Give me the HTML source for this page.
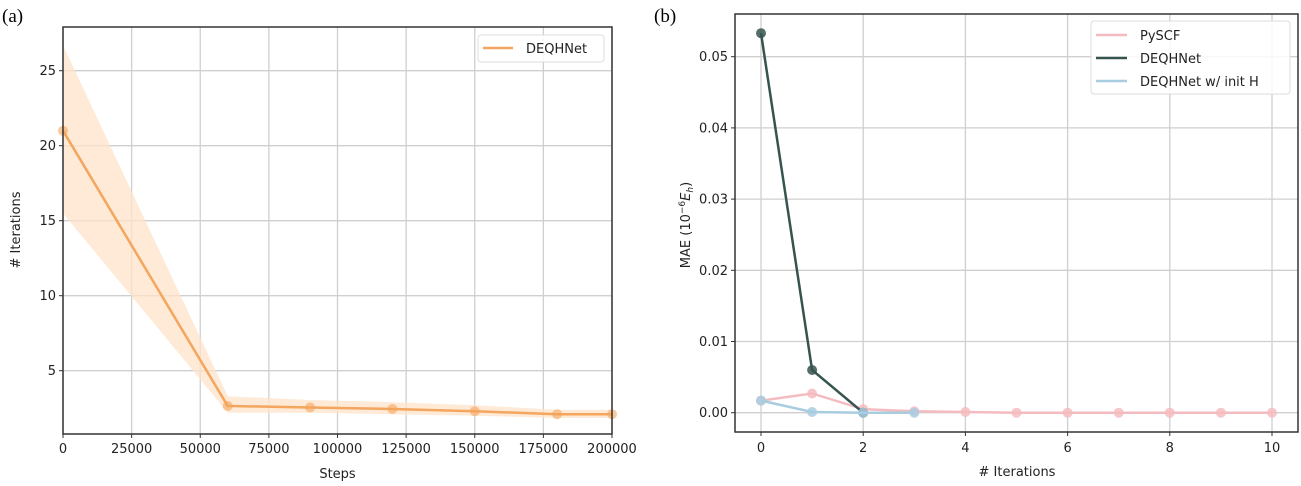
<!DOCTYPE html>
<html><head><meta charset="utf-8"><style>
html,body{margin:0;padding:0;background:#fff;}
svg{display:block;font-family:"DejaVu Sans","Liberation Sans",sans-serif;}
</style></head><body>
<svg id="fig" width="1301" height="486" viewBox="0 0 1301 486" xmlns="http://www.w3.org/2000/svg">
<text x="2" y="22" font-family="Liberation Serif,serif" font-size="19">(a)</text>
<text x="654" y="22" font-family="Liberation Serif,serif" font-size="19">(b)</text>
<g id="pa"></g>
<g id="pb"></g>
</svg>
<script>
// Panel A data
const aSteps = [0, 60000, 90000, 120000, 150000, 180000, 200000];
const aIters = [21, 2.65, 2.55, 2.45, 2.3, 2.1, 2.1];
const aLow = [15.5, 2.2, 2.2, 2.1, 2.0, 1.85, 1.85];
const aHigh = [26.7, 3.3, 3.05, 2.9, 2.7, 2.4, 2.4];
const aXTicks = [0, 25000, 50000, 75000, 100000, 125000, 150000, 175000, 200000];
const aYTicks = [5, 10, 15, 20, 25];
// Panel B data
const bIter = [0,1,2,3,4,5,6,7,8,9,10];
const bPyscf = [0.0017,0.0027,0.0005,0.0002,0.0001,0,0,0,0,0,0];
const bDeqIter = [0,1,2];
const bDeq = [0.0533,0.006,0.0];
const bInitIter = [0,1,2,3];
const bInit = [0.0017,0.0001,0.0,0.0];
const bXTicks = [0,2,4,6,8,10];
const bYTicks = [0,0.01,0.02,0.03,0.04,0.05];
const bYLabels = ["0.00","0.01","0.02","0.03","0.04","0.05"];

const NS="http://www.w3.org/2000/svg";
function mk(parent,tag,attrs,text){const e=document.createElementNS(NS,tag);for(const k in attrs)e.setAttribute(k,attrs[k]);if(text!==undefined)e.textContent=text;parent.appendChild(e);return e;}

// ---- Panel A ----
const pa=document.getElementById('pa');
const aL=63,aR=612,aT=27,aB=434;
const ax=v=>aL+(v-0)/(200000-0)*(aR-aL);
const ay=v=>445.7-v*15;
for(const t of aXTicks){const g=mk(pa,'line',{x1:ax(t),x2:ax(t),y1:aT,y2:aB,stroke:'#cfcfcf','stroke-width':1.3});

const tk=mk(pa,'line',{x1:ax(t),x2:ax(t),y1:aB,y2:aB+4,stroke:'#333'});
const tl=mk(pa,'text',{x:ax(t),y:aB+19,'font-size':13,'text-anchor':'middle',fill:'#222'},String(t));}
for(const t of aYTicks){const g=mk(pa,'line',{x1:aL,x2:aR,y1:ay(t),y2:ay(t),stroke:'#cfcfcf','stroke-width':1.3});

const tk=mk(pa,'line',{x1:aL-4,x2:aL,y1:ay(t),y2:ay(t),stroke:'#333'});
const tl=mk(pa,'text',{x:aL-7,y:ay(t)+4.5,'font-size':13,'text-anchor':'end',fill:'#222'},String(t));}
let band='';aSteps.forEach((s,i)=>band+=(i?'L':'M')+ax(s)+','+ay(aHigh[i]));
for(let i=aSteps.length-1;i>=0;i--)band+='L'+ax(aSteps[i])+','+ay(aLow[i]);
const bd=mk(pa,'path',{d:band+'Z',fill:'#fde3c8','fill-opacity':0.75});
const aLine=mk(pa,'polyline',{points:aSteps.map((s,i)=>ax(s)+','+ay(aIters[i])).join(' '),fill:'none',stroke:'#f4a55e','stroke-width':2.5});

aSteps.forEach((s,i)=>{const c=mk(pa,'circle',{cx:ax(s),cy:ay(aIters[i]),r:5,fill:'#f4a55e','fill-opacity':0.6});});
const af=mk(pa,'rect',{x:aL,y:aT,width:aR-aL,height:aB-aT,fill:'none',stroke:'#333','stroke-width':1.5});
const axt=mk(pa,'text',{x:(aL+aR)/2,y:478,'font-size':13,'text-anchor':'middle',fill:'#222'},'Steps');
const ayt=mk(pa,'text',{x:20,y:230,'font-size':13,'text-anchor':'middle',fill:'#222',transform:'rotate(-90 20 230)'},'# Iterations');
const alg=mk(pa,'g',{});
mk(alg,'rect',{x:478,y:35,width:126,height:27,rx:3,fill:'#fff','fill-opacity':0.85,stroke:'#ddd'});
mk(alg,'line',{x1:483,x2:513,y1:48,y2:48,stroke:'#f4a55e','stroke-width':2.5});
mk(alg,'text',{x:526,y:53,'font-size':13,fill:'#222'},'DEQHNet');

// ---- Panel B ----
const pb=document.getElementById('pb');
const bL=735,bR=1298,bT=14,bB=432;
const bx=v=>761+v*(1272-761)/10;
const by=v=>412.7-v*(356/0.05);
for(const t of bXTicks){const g=mk(pb,'line',{x1:bx(t),x2:bx(t),y1:bT,y2:bB,stroke:'#cfcfcf','stroke-width':1.3});
const tk=mk(pb,'line',{x1:bx(t),x2:bx(t),y1:bB,y2:bB+4,stroke:'#333'});
const tl=mk(pb,'text',{x:bx(t),y:bB+20,'font-size':13,'text-anchor':'middle',fill:'#222'},String(t));}
bYTicks.forEach((t,i)=>{const g=mk(pb,'line',{x1:bL,x2:bR,y1:by(t),y2:by(t),stroke:'#cfcfcf','stroke-width':1.3});
const tk=mk(pb,'line',{x1:bL-4,x2:bL,y1:by(t),y2:by(t),stroke:'#333'});
const tl=mk(pb,'text',{x:bL-7,y:by(t)+4.5,'font-size':13,'text-anchor':'end',fill:'#222'},bYLabels[i]);});
function series(xs,ys,color,name){
const l=mk(pb,'polyline',{points:xs.map((x,i)=>bx(x)+','+by(ys[i])).join(' '),fill:'none',stroke:color,'stroke-width':2.5});

xs.forEach((x,i)=>{const c=mk(pb,'circle',{cx:bx(x),cy:by(ys[i]),r:5,fill:color,'fill-opacity':0.85});});}
series(bIter,bPyscf,'#f4bcc0','b-pyscf');
series(bDeqIter,bDeq,'#36544f','b-deqhnet');
series(bInitIter,bInit,'#a8cde0','b-init-h');
const bf=mk(pb,'rect',{x:bL,y:bT,width:bR-bL,height:bB-bT,fill:'none',stroke:'#333','stroke-width':1.5});
const bxt=mk(pb,'text',{x:1017,y:476,'font-size':13,'text-anchor':'middle',fill:'#222'},'# Iterations');
const byt=mk(pb,'text',{x:690,y:225,'font-size':13,'text-anchor':'middle',fill:'#222',transform:'rotate(-90 690 225)'});
byt.innerHTML='MAE (10<tspan dy="-5" font-size="9">−6</tspan><tspan dy="5" font-style="italic">E</tspan><tspan dy="3" font-size="9" font-style="italic">h</tspan><tspan dy="-3">)</tspan>';
const blg=mk(pb,'g',{});
mk(blg,'rect',{x:1091,y:21,width:199,height:73,rx:3,fill:'#fff','fill-opacity':0.85,stroke:'#ddd'});
[['PySCF','#f4bcc0',35],['DEQHNet','#36544f',58],['DEQHNet w/ init H','#a8cde0',81]].forEach(e=>{
mk(blg,'line',{x1:1096,x2:1127,y1:e[2],y2:e[2],stroke:e[1],'stroke-width':2.5});
mk(blg,'text',{x:1140,y:e[2]+5,'font-size':13,fill:'#222'},e[0]);});
</script>
</body></html>
